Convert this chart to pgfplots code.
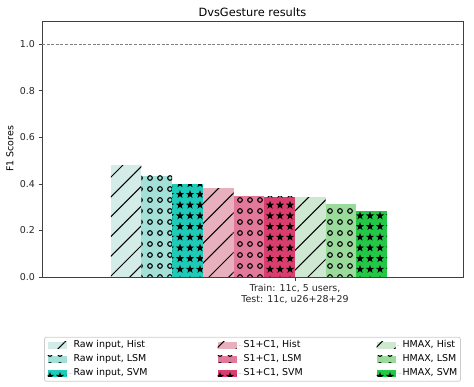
\documentclass[border=0pt]{standalone}
\usepackage{pgfplots}
\pgfplotsset{compat=1.18}
\usepackage{fontspec}
\setmainfont{DejaVu Sans}
\usetikzlibrary{patterns,patterns.meta}

\definecolor{RawHist}{HTML}{D4ECE8}
\definecolor{RawLSM}{HTML}{A2E0D8}
\definecolor{RawSVM}{HTML}{1ECBB9}
\definecolor{SHist}{HTML}{E8B0BD}
\definecolor{SLSM}{HTML}{E2789A}
\definecolor{SSVM}{HTML}{D93E6E}
\definecolor{HHist}{HTML}{CFE8D2}
\definecolor{HLSM}{HTML}{9ADB9C}
\definecolor{HSVM}{HTML}{22C846}

\tikzdeclarepattern{
  name=hcircles, type=uncolored,
  bottom left={(-5bp,-5.5bp)}, top right={(5bp,5.5bp)},
  tile size={(10bp,11bp)},
  code={\draw[line width=1.1bp] (0,0) circle (2.3bp);}
}
\tikzdeclarepattern{
  name=hstars, type=uncolored,
  bottom left={(-5bp,-5.35bp)}, top right={(5bp,5.35bp)},
  tile size={(10bp,10.7bp)},
  code={\fill (90:4.3bp) -- (126:1.75bp) -- (162:4.3bp) -- (198:1.75bp) -- (234:4.3bp) -- (270:1.75bp) -- (306:4.3bp) -- (342:1.75bp) -- (18:4.3bp) -- (54:1.75bp) -- cycle;}
}

\pgfplotsset{
  hist/.style={ybar, bar width=1, bar shift=0pt, draw=none, fill=#1,
    postaction={pattern={Lines[angle=45,distance=14bp,line width=1bp]}, pattern color=black}},
  lsm/.style={ybar, bar width=1, bar shift=0pt, draw=none, fill=#1,
    postaction={pattern=hcircles, pattern color=black}},
  svm/.style={ybar, bar width=1, bar shift=0pt, draw=none, fill=#1,
    postaction={pattern=hstars, pattern color=black}},
}
\newcommand\xlab{Train: 11c, 5 users,\\Test: 11c, u26+28+29}

\begin{document}
\begin{tikzpicture}
\useasboundingbox (0,0) rectangle (474bp,387bp);
\begin{axis}[
  at={(42bp,110bp)}, anchor=south west,
  scale only axis, width=421bp, height=256bp,
  xmin=-8.24, xmax=5.47, ymin=0, ymax=1.1,
  ytick={0,0.2,0.4,0.6,0.8,1.0},
  yticklabel style={/pgf/number format/fixed, /pgf/number format/fixed zerofill, /pgf/number format/precision=1},
  xtick={0},
  xticklabels={\xlab},
  xticklabel style={align=center},
  tick align=outside, tick pos=left, major tick length=3.5bp,
  axis line style={black!75, line width=0.8bp},
  every tick/.style={black!75, line width=0.8bp},
  tick label style={font=\fontsize{9.5}{11}\selectfont, text=black!85},
  /pgf/number format/assume math mode=true,
  title={DvsGesture results},
  title style={at={(0.5,1)}, anchor=base, yshift=-1bp, inner sep=0pt, font=\fontsize{11.4}{13}\selectfont},
  ylabel={F1 Scores},
  ylabel style={at={(axis description cs:-0.076,0.5)}, anchor=center, font=\fontsize{9.5}{11}\selectfont},
  legend columns=3,
  legend style={at={(0.005,-0.234)}, anchor=north west, draw=black!20, rounded corners=2bp, line width=0.8bp,
    inner xsep=3bp, inner ysep=3.5bp, row sep=5bp, column sep=0pt,
    cells={anchor=west}, nodes={inner sep=0pt, text height=7bp, text depth=2bp},
    font=\fontsize{9.5}{11}\selectfont},
  legend image code/.code={\path[#1, sharp corners] (0bp,-3.5bp) rectangle (19bp,3.5bp); \path (0bp,0bp) -- (26bp,0bp);},
]
\draw[gray, line width=0.8bp, dash pattern=on 3bp off 1.6bp] (axis cs:-8.24,1) -- (axis cs:5.47,1);

\addplot[hist=RawHist] coordinates {(-5.5,0.481)};
\addlegendentry{\makebox[144bp][l]{Raw input, Hist}}
\addplot[hist=SHist] coordinates {(-2.5,0.382)};
\addlegendentry{\makebox[133bp][l]{S1+C1, Hist}}
\addplot[hist=HHist] coordinates {(0.5,0.343)};
\addlegendentry{HMAX, Hist}

\addplot[lsm=RawLSM] coordinates {(-4.5,0.435)};
\addlegendentry{\makebox[144bp][l]{Raw input, LSM}}
\addplot[lsm=SLSM] coordinates {(-1.5,0.348)};
\addlegendentry{\makebox[133bp][l]{S1+C1, LSM}}
\addplot[lsm=HLSM] coordinates {(1.5,0.313)};
\addlegendentry{HMAX, LSM}

\addplot[svm=RawSVM] coordinates {(-3.5,0.399)};
\addlegendentry{\makebox[144bp][l]{Raw input, SVM}}
\addplot[svm=SSVM] coordinates {(-0.5,0.344)};
\addlegendentry{\makebox[133bp][l]{S1+C1, SVM}}
\addplot[svm=HSVM] coordinates {(2.5,0.282)};
\addlegendentry{HMAX, SVM}
\end{axis}
\end{tikzpicture}
\end{document}
